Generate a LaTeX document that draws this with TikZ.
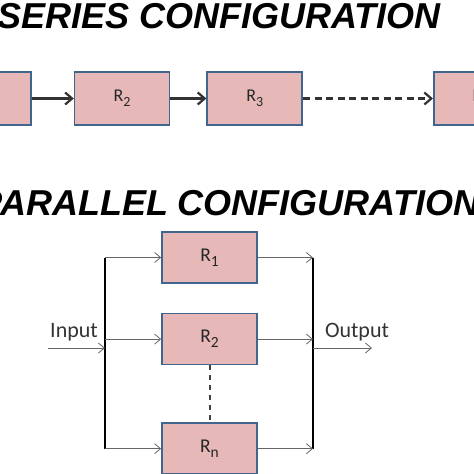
\documentclass[tikz,border=0pt]{standalone}
\usepackage{fontspec}
\setsansfont{Liberation Sans}
\newfontfamily\boxfont{Carlito}
\usepackage{tikz}
\usetikzlibrary{positioning,arrows.meta}
\definecolor{boxfill}{HTML}{E6B9B8}
\definecolor{boxline}{HTML}{41658E}
\newcommand{\rsub}[2]{R\raisebox{-5pt}{\fontsize{#2}{#2}\selectfont #1}}
\tikzstyle{rbox}=[draw=boxline,fill=boxfill,line width=1.6pt,minimum width=95pt,inner sep=0pt,text=black!85]
\tikzstyle{sbox}=[rbox,minimum height=53pt,font=\boxfont\fontsize{18}{20}\selectfont]
\tikzstyle{pbox}=[rbox,minimum height=51pt,font=\boxfont\fontsize{19.5}{21}\selectfont]
\tikzstyle{title}=[font=\sffamily\bfseries\itshape\fontsize{36}{40}\selectfont,anchor=base,inner sep=0pt]
\tikzstyle{sarrow}=[draw=black!80,line width=2.2pt,-{Straight Barb[length=7pt,width=12pt]}]
\tikzstyle{parrow}=[draw=black!60,line width=0.8pt,-{Straight Barb[length=6pt,width=10pt]}]
\tikzstyle{bus}=[draw=black,line width=1.3pt]
\tikzstyle{iolabel}=[font=\boxfont\fontsize{22}{24}\selectfont,anchor=base,inner sep=0pt,text=black!80]

\begin{document}
\begin{tikzpicture}[x=1pt,y=-1pt]
\useasboundingbox (0,0) rectangle (474,474);
\node [title] (stitle) at (219,28) {SERIES CONFIGURATION};
\node [title] (ptitle) at (229,215) {PARALLEL CONFIGURATION};

\begin{scope}
    \node [sbox] (s1) at (-16.5,98.5) {\rsub{1}{14}};
    \node [sbox,right=42pt of s1] (s2) {\rsub{2}{14}};
    \node [sbox,right=36pt of s2] (s3) {\rsub{3}{14}};
    \node [sbox,right=130pt of s3] (s4) {\rsub{n}{14}};
    \draw [sarrow] (s1) -- (s2);
    \draw [sarrow] (s2) -- (s3);
    \draw [sarrow,dash pattern=on 7pt off 4.5pt] (s3) -- (s4);
\end{scope}

\begin{scope}
    \node [pbox] (p1) at (209.5,257.5) {\rsub{1}{15.5}};
    \node [pbox,below=29pt of p1] (p2) {\rsub{2}{15.5}};
    \node [pbox,below=57pt of p2] (pn) {\rsub{n}{15.5}};
    \coordinate (inbus) at (105,348);
    \coordinate (outbus) at (313,348);
    \coordinate (inlet) at (48,348);
    \coordinate (outlet) at (372,348);
    \draw [bus] (p1.west -| inbus) -- (pn.west -| inbus);
    \draw [bus] (p1.east -| outbus) -- (pn.east -| outbus);
    \foreach \r in {p1,p2,pn} {
        \draw [parrow] (\r.west -| inbus) -- (\r.west);
        \draw [parrow] (\r.east) -- (\r.east -| outbus);
    }
    \draw [parrow] (inlet) -- (inbus);
    \draw [parrow] (outbus) -- (outlet);
    \draw [line width=2pt,draw=black!75,dash pattern=on 5pt off 5pt] (p2) -- (pn);
    \node [iolabel] (inlbl) at (74,337) {Input};
    \node [iolabel] (outlbl) at (357,337) {Output};
\end{scope}
\end{tikzpicture}
\end{document}
